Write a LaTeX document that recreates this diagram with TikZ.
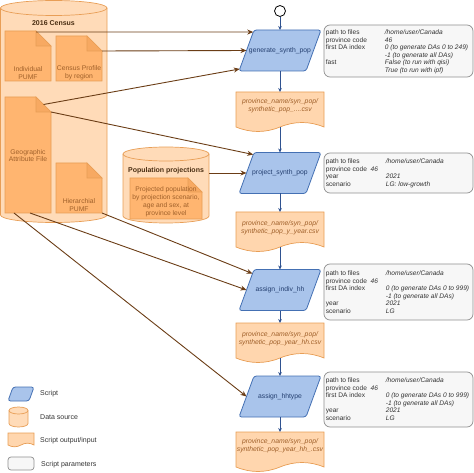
\documentclass[tikz,border=0pt]{standalone}
\usepackage{fontspec}
\setmainfont{Liberation Sans}
\usetikzlibrary{calc,arrows.meta}
\pgfdeclarelayer{bg}
\pgfsetlayers{bg,main}
\definecolor{cylfill}{HTML}{FFDBB8}
\definecolor{orstroke}{HTML}{E89E56}
\definecolor{notefill}{HTML}{FFB570}
\definecolor{notefold}{HTML}{F7A962}
\definecolor{outfill}{HTML}{FFD6AE}
\definecolor{scrfill}{HTML}{A9C4EB}
\definecolor{scrstroke}{HTML}{4470B3}
\definecolor{scrtext}{HTML}{243F70}
\definecolor{brownline}{HTML}{6B3D16}
\definecolor{flowline}{HTML}{2F5290}
\definecolor{orangetext}{HTML}{A0602A}
\definecolor{titletext}{HTML}{4A2E12}
\definecolor{parfill}{HTML}{F7F7F7}
\definecolor{parstroke}{HTML}{8F8F8F}
\definecolor{partextc}{HTML}{333333}

% parallelogram around a node
\newcommand\scriptshape[2][15]{%
  \coordinate (#2-tl) at ($(#2.north west)+(#1,0)$);
  \coordinate (#2-bl) at (#2.south west);
  \begin{pgfonlayer}{bg}
  \draw[scrsty] (#2-tl) -- (#2.north east) -- ($(#2.south east)+(-#1,0)$) -- (#2-bl) -- cycle;
  \end{pgfonlayer}}
% folded note around a node
\newcommand\notedoc[2][15]{%
  \begin{pgfonlayer}{bg}
  \draw[notesty] (#2.north west) -- ($(#2.north east)+(-#1,0)$) -- ($(#2.north east)+(0,#1)$) -- (#2.south east) -- (#2.south west) -- cycle;
  \draw[notesty,fill=notefold] ($(#2.north east)+(-#1,0)$) -- ($(#2.north east)+(-#1,#1)$) -- ($(#2.north east)+(0,#1)$) -- cycle;
  \end{pgfonlayer}}
% wavy document around a node
\newcommand\wavedoc[3][10]{%
  \begin{pgfonlayer}{bg}
  \draw[#3] (#2.north west) -- (#2.north east) -- ($(#2.south east)+(0,-#1/2)$)
    .. controls ($(#2.south west)!5/6!(#2.south east)+(0,-1.1*#1)$) and ($(#2.south west)!2/3!(#2.south east)+(0,-1.1*#1)$) .. ($(#2.south)+(0,-#1/2)$)
    .. controls ($(#2.south west)!1/3!(#2.south east)+(0,0.1*#1)$) and ($(#2.south west)!1/6!(#2.south east)+(0,0.1*#1)$) .. ($(#2.south west)+(0,-#1/2)$) -- cycle;
  \end{pgfonlayer}}
% cylinder: style, x0, x1, ytop, ybot, rx, ry
\newcommand\cylshape[7]{%
  \begin{pgfonlayer}{bg}
  \draw[#1] (#2,#4) -- (#2,#5) arc[start angle=180,end angle=360,x radius=#6pt,y radius=#7pt]
     -- (#3,#4) arc[start angle=0,end angle=180,x radius=#6pt,y radius=#7pt] -- cycle;
  \draw[#1,fill=none] (#2,#4) arc[start angle=180,end angle=360,x radius=#6pt,y radius=#7pt];
  \end{pgfonlayer}}

\begin{document}
\begin{tikzpicture}[x=1pt,y=-1pt,
  shapebox/.style={inner sep=0pt, outer sep=0pt, draw=none},
  conn/.style={draw=brownline, line width=0.9pt, -{Stealth[length=6pt,width=5pt]}},
  flow/.style={draw=flowline, line width=0.6pt, -{Stealth[length=4pt,width=3.6pt]}},
  scrsty/.style={draw=scrstroke, fill=scrfill, line width=0.8pt, rounded corners=2.5pt},
  notesty/.style={draw=orstroke, fill=notefill, line width=0.6pt},
  cylsty/.style={draw=orstroke, fill=cylfill, line width=0.7pt},
  outsty/.style={draw=orstroke, fill=outfill, line width=0.7pt},
  parbox/.style={draw=parstroke, fill=parfill, line width=0.7pt, rounded corners=6pt, inner sep=0pt, minimum width=149},
  notetext/.style={text=orangetext, font=\fontsize{6.8}{7.8}\selectfont, align=center, inner sep=0pt},
  outtext/.style={text=orangetext, font=\fontsize{6.8}{8.2}\selectfont\itshape, align=center, inner sep=0pt},
  scrtextsty/.style={text=scrtext, font=\fontsize{6.8}{8}\selectfont},
  title/.style={text=titletext, font=\fontsize{7}{8.4}\selectfont\bfseries, inner sep=0pt},
  partext/.style={text=partextc, font=\fontsize{6.6}{7.6}\selectfont, inner sep=0pt, anchor=west},
  legtext/.style={text=partextc, font=\fontsize{7}{8}\selectfont, inner sep=0pt, anchor=west}]
\useasboundingbox (0,0) rectangle (474,473);

% ---------- 2016 Census cylinder ----------
\node[shapebox, minimum width=107, minimum height=223] (census) at (53.5,111.5) {};
\cylshape{cylsty}{0.5}{107}{8}{215}{53.25}{7.5}
\node[title] (censust) at (53.5,23) {2016 Census};

\node[shapebox, minimum width=46, minimum height=50] (ipumf) at (28,56) {};
\notedoc{ipumf}
\node[notetext] (ipumft) at (28,73) {Individual\\PUMF};

\node[shapebox, minimum width=46, minimum height=45] (cprof) at (79,58.5) {};
\notedoc{cprof}
\node[notetext] (cproft) at (79,73) {Census Profile\\by region};

\node[shapebox, minimum width=46, minimum height=116] (gaf) at (28,155) {};
\notedoc{gaf}
\node[notetext] (gaft) at (28,155.5) {Geographic\\Attribute File};

\node[shapebox, minimum width=46, minimum height=50] (hpumf) at (79,188) {};
\notedoc{hpumf}
\node[notetext] (hpumft) at (79,205) {Hierarchial\\PUMF};

% ---------- Population projections cylinder ----------
\node[shapebox, minimum width=86, minimum height=76] (popcyl) at (166,185) {};
\cylshape{cylsty}{123}{209}{154}{216}{43}{7}
\node[title] (popt) at (166,171) {Population projections};
\node[shapebox, minimum width=72, minimum height=41] (ppdoc) at (166,198.5) {};
\notedoc[14]{ppdoc}
\node[notetext, font=\fontsize{6.7}{8}\selectfont] (ppdoct) at (166,202) {Projected population\\by projection scenario,\\age and sex, at\\province level};

% ---------- flow ----------
\node[circle, draw=black, fill=white, line width=0.8pt, minimum size=11, inner sep=0pt] (start) at (280,11) {};

\node[shapebox, scrtextsty, minimum width=82, minimum height=41] (gen) at (280,50.5) {generate\_synth\_pop};
\scriptshape{gen}
\node[shapebox, minimum width=88, minimum height=40] (d1) at (280,112) {};
\wavedoc{d1}{outsty}
\node[outtext] (d1t) at (280,106) {province\_name/syn\_pop/\\synthetic\_pop\_....csv};

\node[shapebox, scrtextsty, minimum width=82, minimum height=41] (proj) at (280,173) {project\_synth\_pop};
\scriptshape{proj}
\node[shapebox, minimum width=88, minimum height=40] (d2) at (280,232) {};
\wavedoc{d2}{outsty}
\node[outtext] (d2t) at (280,228) {province\_name/syn\_pop/\\synthetic\_pop\_y\_year.csv};

\node[shapebox, scrtextsty, minimum width=82, minimum height=41] (indiv) at (280,290) {assign\_indiv\_hh};
\scriptshape{indiv}
\node[shapebox, minimum width=88, minimum height=40] (d3) at (280,343) {};
\wavedoc{d3}{outsty}
\node[outtext] (d3t) at (280,339) {province\_name/syn\_pop/\\synthetic\_pop\_year\_hh.csv};

\node[shapebox, scrtextsty, minimum width=82, minimum height=41] (hhtype) at (280,396.5) {assign\_hhtype};
\scriptshape{hhtype}
\node[shapebox, minimum width=88, minimum height=40] (d4) at (280,452) {};
\wavedoc{d4}{outsty}
\node[outtext] (d4t) at (280,446) {province\_name/syn\_pop/\\synthetic\_pop\_year\_hh\_.csv};

% ---------- parameter boxes ----------
\node[parbox, minimum height=52] (p1) at (398.5,51) {};
\node[partext] (p1t) at ($(p1.west)+(2,1)$) {\begin{tabular}{@{}p{59pt}@{}l@{}}
path to files & \textit{/home/user/Canada}\\
province code & \textit{46}\\
first DA index & \textit{0 (to generate DAs 0 to 249)}\\
 & \textit{-1 (to generate all DAs)}\\
fast & \textit{False (to run with qisi)}\\
 & \textit{True (to run with ipf)}
\end{tabular}};

\node[parbox, minimum height=40] (p2) at (398.5,173) {};
\node[partext] (p2t) at ($(p2.west)+(2,0.3)$) {\begin{tabular}{@{}p{60pt}@{}l@{}}
path to files & \textit{/home/user/Canada}\\
province code~~\textit{46} & \\
year & \textit{2021}\\
scenario & \textit{LG: low-growth}
\end{tabular}};

\node[parbox, minimum height=56] (p3) at (398.5,292) {};
\node[partext] (p3t) at ($(p3.west)+(2,1)$) {\begin{tabular}{@{}p{60pt}@{}l@{}}
path to files & \textit{/home/user/Canada}\\
province code~~\textit{46} & \\
first DA index & \textit{0 (to generate DAs 0 to 999)}\\
 & \textit{-1 (to generate all DAs)}\\
year & \textit{2021}\\
scenario & \textit{LG}
\end{tabular}};

\node[parbox, minimum height=55] (p4) at (398.5,399.5) {};
\node[partext] (p4t) at ($(p4.west)+(2,0.5)$) {\begin{tabular}{@{}p{60pt}@{}l@{}}
path to files & \textit{/home/user/Canada}\\
province code~~\textit{46} & \\
first DA index & \textit{0 (to generate DAs 0 to 999)}\\
 & \textit{-1 (to generate all DAs)}\\
year & \textit{2021}\\
scenario & \textit{LG}
\end{tabular}};

% ---------- legend ----------
\node[shapebox, minimum width=26, minimum height=14] (lscript) at (21,394) {};
\scriptshape[5]{lscript}
\node[legtext] (lscriptt) at (40,394) {Script};

\node[shapebox, minimum width=19, minimum height=20] (lcyl) at (18.5,417) {};
\cylshape{cylsty}{9}{28}{410.5}{423.5}{9.5}{3.5}
\node[legtext] (lcylt) at (40,417.5) {Data source};

\node[shapebox, minimum width=26, minimum height=14] (ldoc) at (21,440) {};
\wavedoc[4]{ldoc}{outsty}
\node[legtext] (ldoct) at (40,441) {Script output/input};

\node[parbox, minimum width=26, minimum height=13, rounded corners=3pt] (lpar) at (21,463.5) {};
\node[legtext] (lpart) at (41,465) {Script parameters};

% ---------- connectors ----------
\draw[flow] (start) -- (gen.north);
\draw[flow] (gen.south) -- (d1.north);
\draw[flow] ($(d1.south)+(0,-5)$) -- (proj.north);
\draw[flow] (proj.south) -- (d2.north);
\draw[flow] ($(d2.south)+(0,-5)$) -- (indiv.north);
\draw[flow] (indiv.south) -- (d3.north);
\draw[flow] ($(d3.south)+(0,-5)$) -- (hhtype.north);
\draw[flow] (hhtype.south) -- (d4.north);

\draw[conn] ($(ipumf.north east)+(-15,1)$) -- ($(gen-tl)!0.05!(gen-bl)$);
\draw[conn] ($(cprof.north east)+(0,15)$) -- ($(gen-tl)!0.5!(gen-bl)$);
\draw[conn] ($(gaf.north east)+(-7.5,7.5)$) -- ($(gen-tl)!0.95!(gen-bl)$);
\draw[conn] ($(gaf.north east)+(0,15)$) -- ($(proj-tl)!0.05!(proj-bl)$);
\draw[conn] (proj.west -| popcyl.east) -- ($(proj-tl)!0.5!(proj-bl)$);
\draw[conn] (hpumf.south east) -- ($(indiv-tl)!0.1!(indiv-bl)$);
\draw[conn] ($(gaf.south)+(2,0)$) -- ($(indiv-tl)!0.5!(indiv-bl)$);
\draw[conn] ($(gaf.south west)+(9,0)$) -- ($(hhtype-tl)!0.5!(hhtype-bl)$);
\end{tikzpicture}
\end{document}
